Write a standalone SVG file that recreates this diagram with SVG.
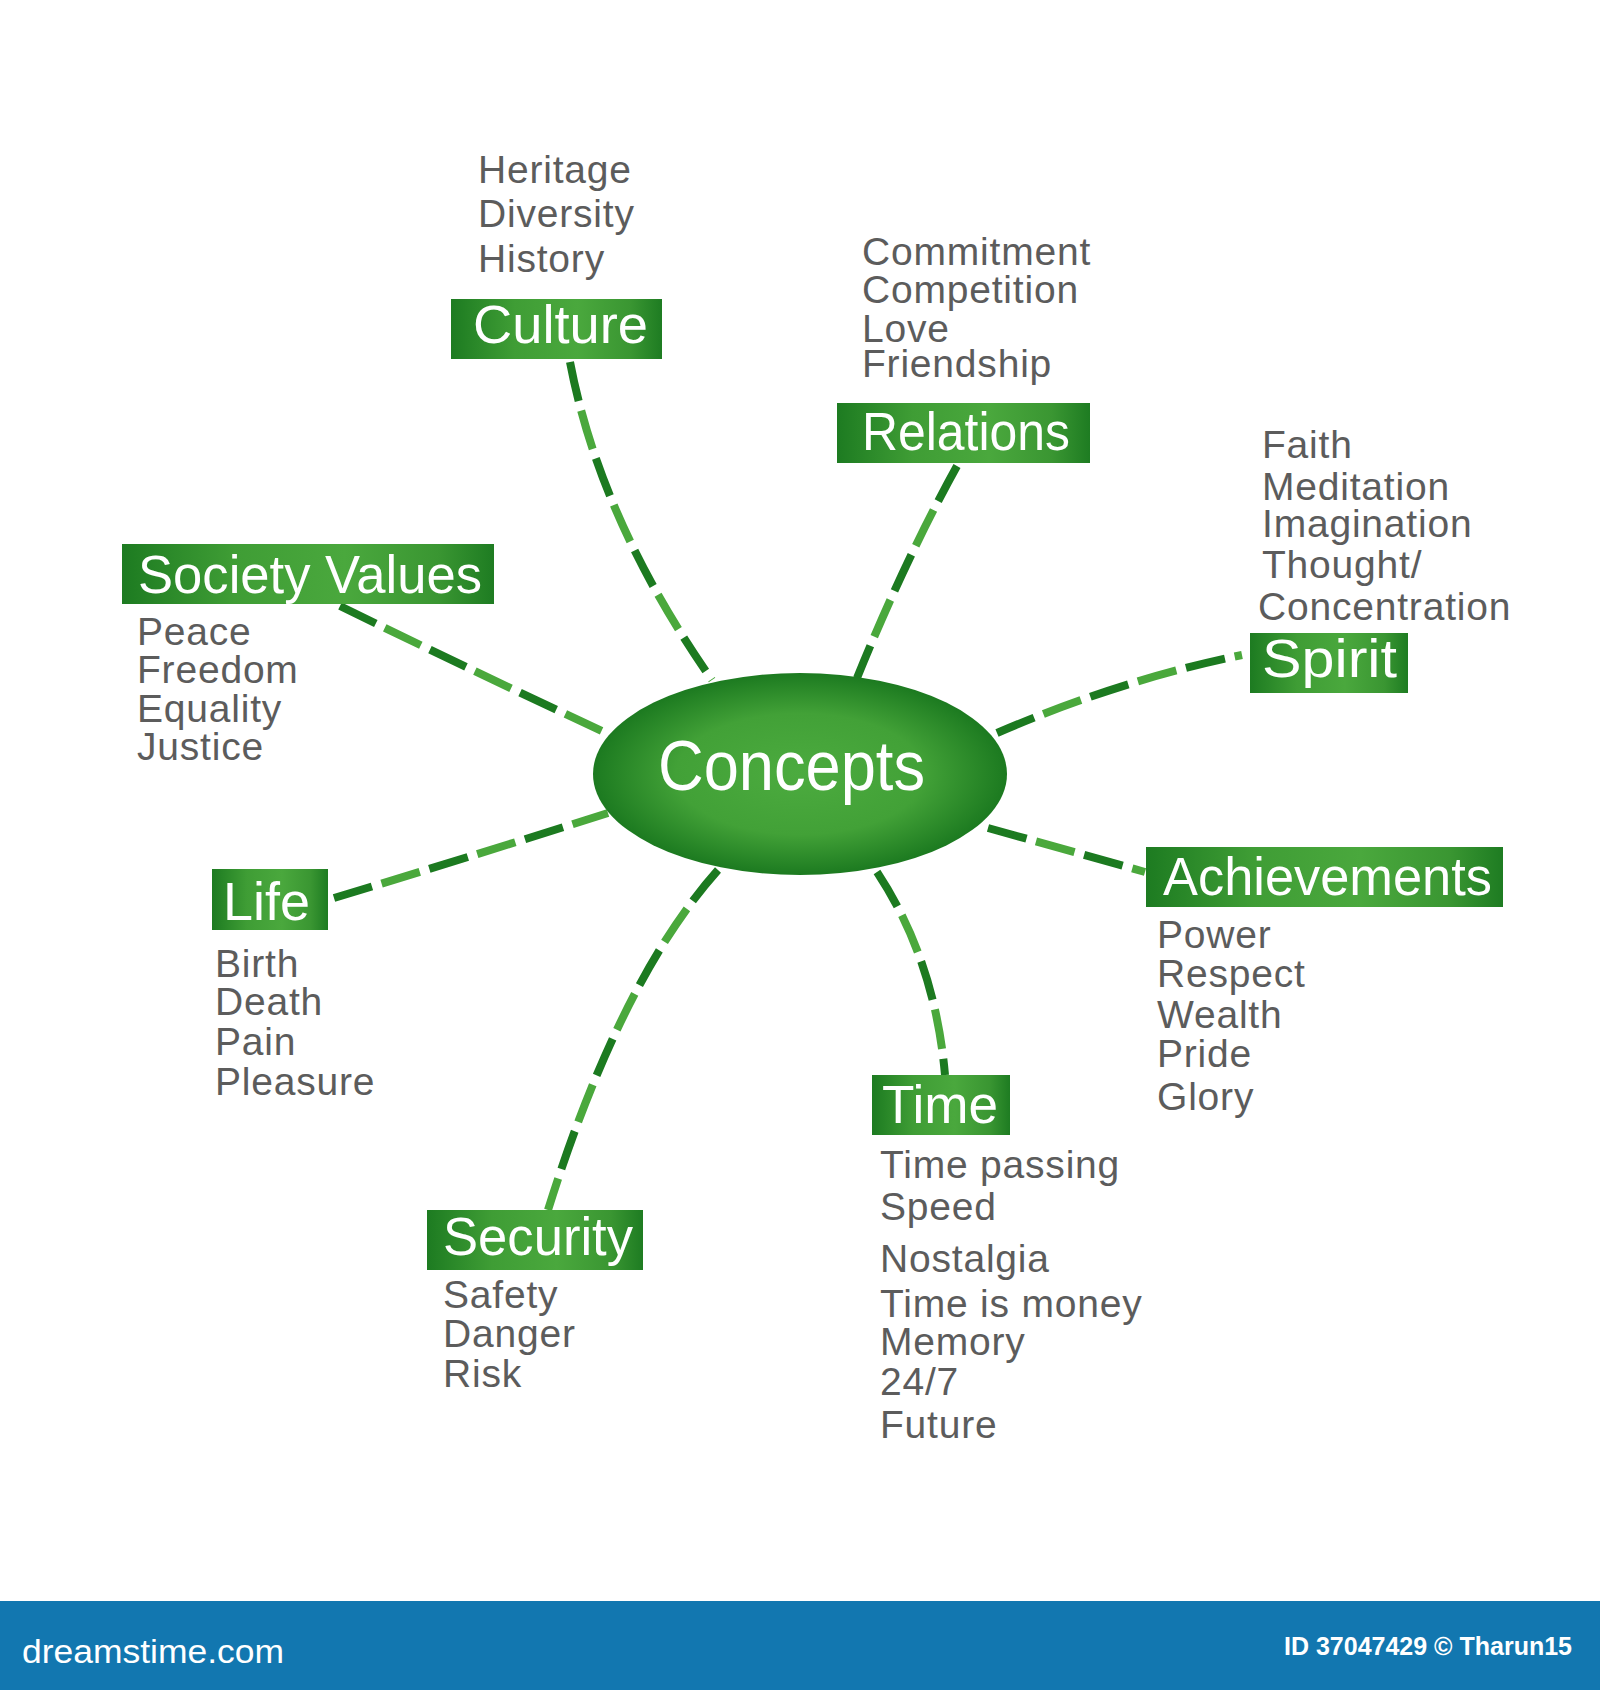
<svg xmlns="http://www.w3.org/2000/svg" width="1600" height="1690" viewBox="0 0 1600 1690">
  <defs>
    <linearGradient id="boxGrad" x1="0" y1="0" x2="1" y2="0">
      <stop offset="0" stop-color="#1d7b21"/>
      <stop offset="0.3" stop-color="#3f9d35"/>
      <stop offset="0.6" stop-color="#4aa83d"/>
      <stop offset="0.85" stop-color="#3a9632"/>
      <stop offset="1" stop-color="#1e7c22"/>
    </linearGradient>
    <radialGradient id="ovalGrad" cx="0.5" cy="0.5" r="0.5">
      <stop offset="0" stop-color="#4cab3f"/>
      <stop offset="0.6" stop-color="#42a137"/>
      <stop offset="1" stop-color="#1c7a20"/>
    </radialGradient>
    <style>
      .box { fill: url(#boxGrad); }
      .lbl { font-family: "Liberation Sans", Arial, sans-serif; font-size: 54px; fill: #ffffff; }
      .item { font-family: "Liberation Sans", Arial, sans-serif; font-size: 39px; letter-spacing: 0.8px; fill: #5c5c5c; }
      .dk { fill: none; stroke: #1c7a20; stroke-width: 8; stroke-dasharray: 40 60; }
      .lt { fill: none; stroke: #4aa83c; stroke-width: 8; stroke-dasharray: 40 60; stroke-dashoffset: -50; }
    </style>
  </defs>

  <rect x="0" y="0" width="1600" height="1690" fill="#ffffff"/>

  <g id="connectors">
    <path class="dk" d="M570,362 Q600,520 712,680"/>
    <path class="lt" d="M570,362 Q600,520 712,680"/>
    <path class="dk" d="M957,466 Q905,560 857,678"/>
    <path class="lt" d="M957,466 Q905,560 857,678"/>
    <path class="dk" d="M340,606 Q450,660 608,734"/>
    <path class="lt" d="M340,606 Q450,660 608,734"/>
    <path class="dk" d="M997,733 Q1120,680 1242,655"/>
    <path class="lt" d="M997,733 Q1120,680 1242,655"/>
    <path class="dk" d="M988,828 Q1060,848 1145,872"/>
    <path class="lt" d="M988,828 Q1060,848 1145,872"/>
    <path class="dk" d="M334,898 Q460,860 608,813"/>
    <path class="lt" d="M334,898 Q460,860 608,813"/>
    <path class="dk" d="M718,870 Q620,980 548,1210"/>
    <path class="lt" d="M718,870 Q620,980 548,1210"/>
    <path class="dk" d="M877,872 Q935,960 945,1075"/>
    <path class="lt" d="M877,872 Q935,960 945,1075"/>
  </g>

  <g id="concepts">
    <ellipse cx="800" cy="774" rx="207" ry="101" fill="url(#ovalGrad)"/>
    <text x="658" y="790" font-family="Liberation Sans, Arial, sans-serif" font-size="70" fill="#ffffff" textLength="267" lengthAdjust="spacingAndGlyphs">Concepts</text>
  </g>

  <g id="culture">
    <rect class="box" x="451" y="299" width="211" height="60"/>
    <text class="lbl" x="473" y="343" textLength="175" lengthAdjust="spacingAndGlyphs">Culture</text>
    <text class="item" x="478" y="183">Heritage</text>
    <text class="item" x="478" y="227">Diversity</text>
    <text class="item" x="478" y="272">History</text>
  </g>

  <g id="relations">
    <rect class="box" x="837" y="403" width="253" height="60"/>
    <text class="lbl" x="862" y="450" textLength="208" lengthAdjust="spacingAndGlyphs">Relations</text>
    <text class="item" x="862" y="265">Commitment</text>
    <text class="item" x="862" y="303">Competition</text>
    <text class="item" x="862" y="342">Love</text>
    <text class="item" x="862" y="377">Friendship</text>
  </g>

  <g id="spirit">
    <rect class="box" x="1250" y="633" width="158" height="60"/>
    <text class="lbl" x="1262" y="677" textLength="135" lengthAdjust="spacingAndGlyphs">Spirit</text>
    <text class="item" x="1262" y="458">Faith</text>
    <text class="item" x="1262" y="500">Meditation</text>
    <text class="item" x="1262" y="537">Imagination</text>
    <text class="item" x="1262" y="578">Thought/</text>
    <text class="item" x="1258" y="620">Concentration</text>
  </g>

  <g id="society-values">
    <rect class="box" x="122" y="544" width="372" height="60"/>
    <text class="lbl" x="138" y="593" textLength="344" lengthAdjust="spacingAndGlyphs">Society Values</text>
    <text class="item" x="137" y="645">Peace</text>
    <text class="item" x="137" y="683">Freedom</text>
    <text class="item" x="137" y="722">Equality</text>
    <text class="item" x="137" y="760">Justice</text>
  </g>

  <g id="achievements">
    <rect class="box" x="1146" y="847" width="357" height="60"/>
    <text class="lbl" x="1163" y="895" textLength="329" lengthAdjust="spacingAndGlyphs">Achievements</text>
    <text class="item" x="1157" y="948">Power</text>
    <text class="item" x="1157" y="987">Respect</text>
    <text class="item" x="1157" y="1028">Wealth</text>
    <text class="item" x="1157" y="1067">Pride</text>
    <text class="item" x="1157" y="1110">Glory</text>
  </g>

  <g id="life">
    <rect class="box" x="212" y="869" width="116" height="61"/>
    <text class="lbl" x="223" y="920" textLength="87" lengthAdjust="spacingAndGlyphs">Life</text>
    <text class="item" x="215" y="977">Birth</text>
    <text class="item" x="215" y="1015">Death</text>
    <text class="item" x="215" y="1055">Pain</text>
    <text class="item" x="215" y="1095">Pleasure</text>
  </g>

  <g id="time">
    <rect class="box" x="872" y="1075" width="138" height="60"/>
    <text class="lbl" x="882" y="1123" textLength="116" lengthAdjust="spacingAndGlyphs">Time</text>
    <text class="item" x="880" y="1178">Time passing</text>
    <text class="item" x="880" y="1220">Speed</text>
    <text class="item" x="880" y="1272">Nostalgia</text>
    <text class="item" x="880" y="1317">Time is money</text>
    <text class="item" x="880" y="1355">Memory</text>
    <text class="item" x="880" y="1395">24/7</text>
    <text class="item" x="880" y="1438">Future</text>
  </g>

  <g id="security">
    <rect class="box" x="427" y="1210" width="216" height="60"/>
    <text class="lbl" x="443" y="1255" textLength="190" lengthAdjust="spacingAndGlyphs">Security</text>
    <text class="item" x="443" y="1308">Safety</text>
    <text class="item" x="443" y="1347">Danger</text>
    <text class="item" x="443" y="1387">Risk</text>
  </g>

  <g id="footer">
    <rect x="0" y="1601" width="1600" height="89" fill="#1277b0"/>
    <text x="22" y="1663" font-family="Liberation Sans, Arial, sans-serif" font-size="34" fill="#ffffff" textLength="262" lengthAdjust="spacingAndGlyphs">dreamstime.com</text>
    <text x="1572" y="1655" text-anchor="end" font-family="Liberation Sans, Arial, sans-serif" font-size="25" font-weight="bold" fill="#ffffff">ID 37047429 © Tharun15</text>
  </g>
</svg>
